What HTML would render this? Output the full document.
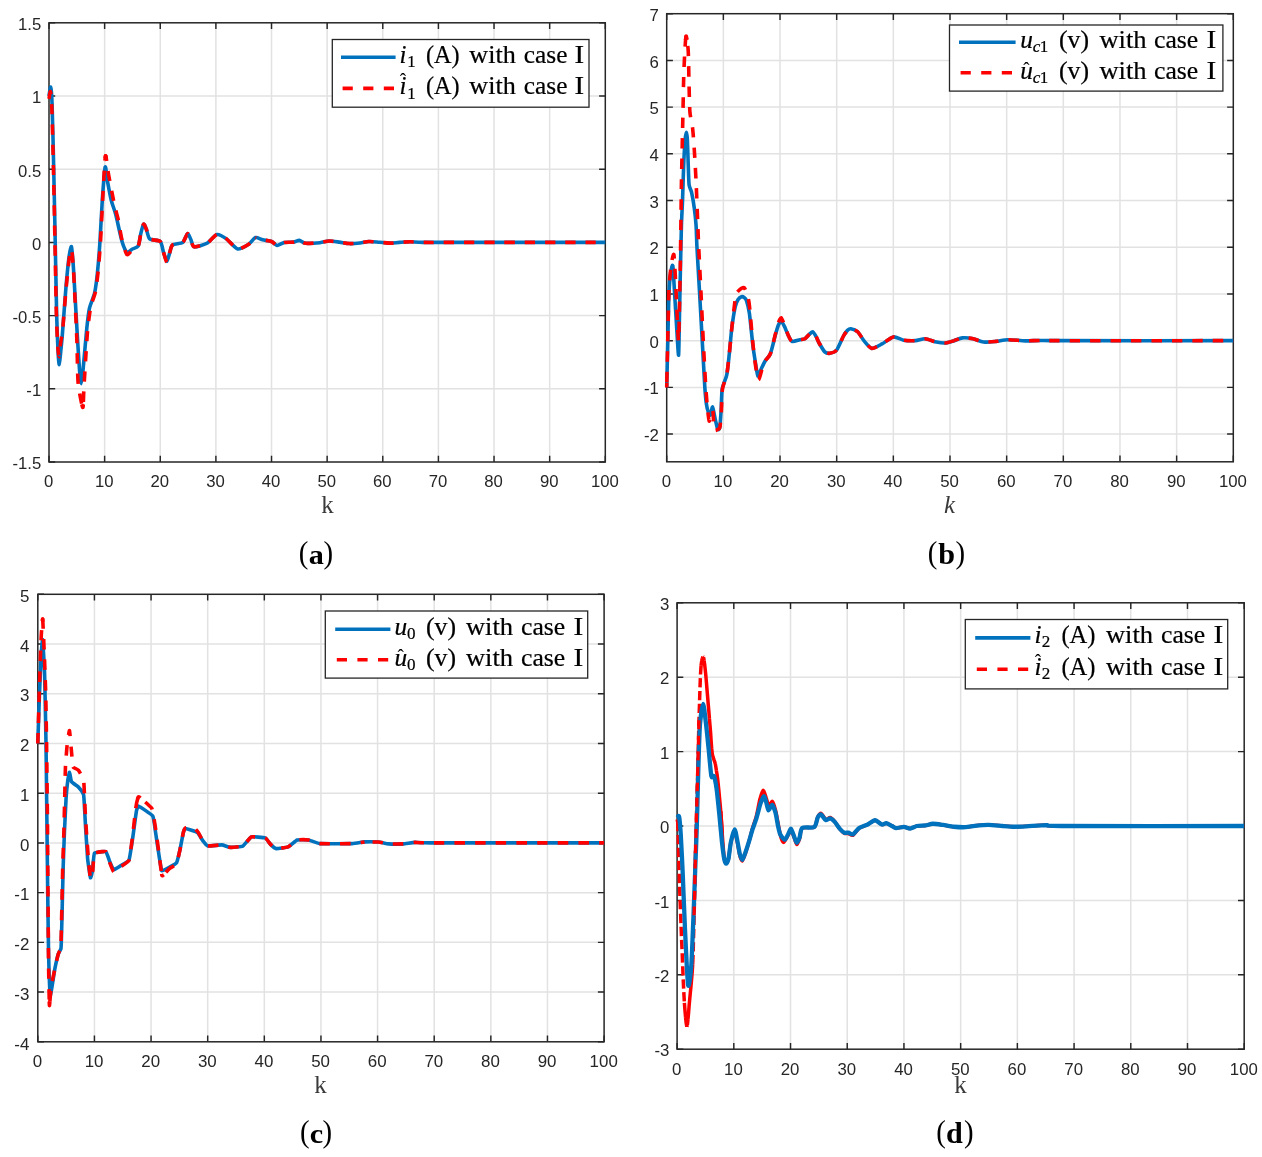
<!DOCTYPE html>
<html lang="en"><head><meta charset="utf-8"><title>Figure</title>
<style>html,body{margin:0;padding:0;background:#fff}svg{display:block}</style></head><body>
<svg width="1262" height="1157" viewBox="0 0 1262 1157">
<rect width="1262" height="1157" fill="#fff"/>
<defs><clipPath id="ca"><rect x="47.00" y="22.80" width="560.30" height="439.20"/></clipPath><clipPath id="cb"><rect x="664.70" y="13.70" width="570.60" height="448.10"/></clipPath><clipPath id="cc"><rect x="35.80" y="594.30" width="570.30" height="447.50"/></clipPath><clipPath id="cd"><rect x="675.10" y="602.80" width="571.10" height="446.40"/></clipPath></defs>
<g id="plotA">
<rect x="49.00" y="22.80" width="556.30" height="439.20" fill="#fff"/>
<path d="M104.63 22.80V462.00M160.26 22.80V462.00M215.89 22.80V462.00M271.52 22.80V462.00M327.15 22.80V462.00M382.78 22.80V462.00M438.41 22.80V462.00M494.04 22.80V462.00M549.67 22.80V462.00M49.00 96.00H605.30M49.00 169.20H605.30M49.00 242.40H605.30M49.00 315.60H605.30M49.00 388.80H605.30" stroke="#e2e2e2" stroke-width="1.5" fill="none"/>
<path d="M49.00 462.00v-6.20M49.00 22.80v6.20M104.63 462.00v-6.20M104.63 22.80v6.20M160.26 462.00v-6.20M160.26 22.80v6.20M215.89 462.00v-6.20M215.89 22.80v6.20M271.52 462.00v-6.20M271.52 22.80v6.20M327.15 462.00v-6.20M327.15 22.80v6.20M382.78 462.00v-6.20M382.78 22.80v6.20M438.41 462.00v-6.20M438.41 22.80v6.20M494.04 462.00v-6.20M494.04 22.80v6.20M549.67 462.00v-6.20M549.67 22.80v6.20M605.30 462.00v-6.20M605.30 22.80v6.20M49.00 22.80h6.20M605.30 22.80h-6.20M49.00 96.00h6.20M605.30 96.00h-6.20M49.00 169.20h6.20M605.30 169.20h-6.20M49.00 242.40h6.20M605.30 242.40h-6.20M49.00 315.60h6.20M605.30 315.60h-6.20M49.00 388.80h6.20M605.30 388.80h-6.20M49.00 462.00h6.20M605.30 462.00h-6.20" stroke="#262626" stroke-width="1.45" fill="none"/>
<rect x="49.00" y="22.80" width="556.30" height="439.20" fill="none" stroke="#262626" stroke-width="1.5"/>
<g clip-path="url(#ca)">
<path d="M49.00 96.00 C49.19 94.98 50.31 86.36 50.67 87.22 C51.03 88.07 51.70 93.76 52.06 103.32 C52.42 112.88 53.36 152.97 53.73 169.20 C54.10 185.43 54.89 225.32 55.23 242.40 C55.57 259.48 56.33 302.62 56.68 315.60 C57.02 328.58 57.87 347.96 58.18 353.66 C58.48 359.37 59.00 364.67 59.29 364.50 C59.58 364.33 60.33 355.68 60.68 352.20 C61.04 348.72 61.74 342.15 62.35 334.63 C62.96 327.12 65.13 296.84 65.91 287.78 C66.69 278.73 68.38 261.84 69.03 257.04 C69.68 252.24 70.99 245.79 71.47 246.65 C71.96 247.50 72.84 259.56 73.20 264.36 C73.56 269.16 74.12 279.59 74.59 287.78 C75.06 295.98 76.68 324.90 77.26 334.63 C77.84 344.37 79.15 365.51 79.60 371.23 C80.04 376.95 80.71 383.68 81.10 383.68 C81.49 383.68 82.27 377.74 82.93 371.23 C83.60 364.72 86.07 335.24 86.83 327.90 C87.59 320.55 88.53 312.36 89.44 308.28 C90.35 304.20 93.69 297.01 94.62 292.91 C95.54 288.81 96.78 279.04 97.40 273.14 C98.01 267.25 99.32 251.11 99.90 242.40 C100.49 233.69 101.79 207.28 102.40 198.48 C103.02 189.68 104.60 169.05 105.19 167.00 C105.77 164.95 106.70 177.00 107.41 180.91 C108.13 184.82 110.33 196.60 111.31 200.53 C112.28 204.46 114.52 209.87 115.76 214.58 C116.99 219.30 120.58 236.56 121.88 240.94 C123.17 245.31 125.65 251.12 126.88 252.06 C128.12 253.00 131.11 249.71 132.44 248.99 C133.78 248.27 137.31 247.71 138.29 245.91 C139.26 244.12 140.17 236.16 140.79 233.62 C141.41 231.07 142.92 224.61 143.57 224.10 C144.22 223.59 145.64 227.50 146.35 229.22 C147.07 230.95 148.07 237.45 149.69 238.89 C151.31 240.32 158.64 239.92 160.26 241.52 C161.88 243.13 162.82 250.33 163.60 252.65 C164.38 254.97 166.22 261.43 166.94 261.43 C167.65 261.43 169.07 254.56 169.72 252.65 C170.37 250.74 170.97 246.23 172.50 245.04 C174.02 243.84 181.04 243.73 182.79 242.40 C184.54 241.07 186.58 233.96 187.52 233.62 C188.46 233.27 190.08 237.93 190.86 239.47 C191.64 241.01 192.31 246.35 194.19 246.79 C196.08 247.24 204.33 244.71 206.99 243.28 C209.65 241.84 214.73 235.01 217.00 234.49 C219.27 233.98 224.06 237.20 226.46 238.89 C228.86 240.58 234.99 248.37 237.59 248.99 C240.18 249.60 246.63 245.49 248.71 244.16 C250.79 242.82 253.76 238.08 255.39 237.57 C257.01 237.06 260.74 239.30 262.62 239.76 C264.50 240.23 269.83 240.86 271.52 241.52 C273.21 242.19 275.59 245.37 277.08 245.47 C278.58 245.58 282.37 242.79 284.31 242.40 C286.26 242.01 292.02 242.35 293.77 242.11 C295.52 241.87 297.97 240.21 299.33 240.35 C300.70 240.49 303.05 243.01 305.45 243.28 C307.86 243.55 317.19 242.96 319.92 242.69 C322.64 242.43 326.55 241.08 328.82 241.01 C331.09 240.94 336.99 241.81 339.39 242.11 C341.79 242.41 347.00 243.47 349.40 243.57 C351.80 243.67 357.70 243.22 359.97 242.99 C362.24 242.75 366.60 241.61 368.87 241.52 C371.14 241.44 376.98 242.07 379.44 242.25 C381.91 242.44 387.68 243.11 390.01 243.13 C392.35 243.15 397.07 242.55 399.47 242.40 C401.87 242.25 407.87 241.81 410.60 241.81 C413.32 241.81 416.34 242.33 422.83 242.40 C429.32 242.47 444.94 242.40 466.23 242.40 C487.51 242.40 589.07 242.40 605.30 242.40" fill="none" stroke="#0072bd" stroke-width="3.60" stroke-linejoin="round"/>
<path d="M49.00 98.93 C49.16 98.07 50.07 90.75 50.39 91.61 C50.72 92.46 51.42 97.20 51.78 106.25 C52.14 115.30 53.08 153.32 53.45 169.20 C53.82 185.08 54.61 225.32 54.95 242.40 C55.30 259.48 56.05 303.30 56.40 315.60 C56.74 327.90 57.56 343.03 57.90 347.81 C58.24 352.59 59.00 356.93 59.29 356.59 C59.58 356.25 60.18 346.93 60.40 344.88 C60.63 342.83 60.98 340.73 61.24 339.02 C61.50 337.32 62.08 335.88 62.63 330.24 C63.17 324.60 65.17 298.91 65.91 290.71 C66.66 282.51 68.38 264.78 69.03 259.97 C69.68 255.15 70.99 248.74 71.47 249.43 C71.96 250.11 72.84 261.01 73.20 265.82 C73.56 270.64 74.17 282.17 74.59 290.71 C75.01 299.25 76.43 328.61 76.81 339.02 C77.20 349.44 77.54 373.35 77.93 380.02 C78.32 386.68 79.57 392.93 80.15 396.12 C80.74 399.31 82.48 408.64 82.93 407.39 C83.39 406.15 83.53 394.09 84.05 385.43 C84.57 376.77 86.61 342.34 87.38 333.17 C88.16 324.00 89.81 311.51 90.72 306.82 C91.63 302.12 94.33 296.84 95.17 292.91 C96.02 288.98 97.34 279.04 97.95 273.14 C98.57 267.25 99.87 251.62 100.46 242.40 C101.04 233.18 102.38 204.17 102.96 194.09 C103.55 184.01 104.82 158.33 105.46 156.02 C106.11 153.72 107.45 168.52 108.52 174.32 C109.59 180.13 113.51 200.51 114.64 205.80 C115.78 211.09 117.42 215.78 118.26 219.71 C119.10 223.64 120.87 235.41 121.88 239.47 C122.88 243.54 125.65 253.36 126.88 254.55 C128.12 255.75 131.11 250.73 132.44 249.72 C133.78 248.71 137.31 247.79 138.29 245.91 C139.26 244.03 140.17 236.16 140.79 233.62 C141.41 231.07 142.92 224.61 143.57 224.10 C144.22 223.59 145.64 227.50 146.35 229.22 C147.07 230.95 148.07 237.45 149.69 238.89 C151.31 240.32 158.64 239.92 160.26 241.52 C161.88 243.13 162.82 250.21 163.60 252.65 C164.38 255.09 166.22 262.46 166.94 262.46 C167.65 262.46 169.07 254.68 169.72 252.65 C170.37 250.62 170.97 246.23 172.50 245.04 C174.02 243.84 181.04 243.73 182.79 242.40 C184.54 241.07 186.58 233.96 187.52 233.62 C188.46 233.27 190.08 237.93 190.86 239.47 C191.64 241.01 192.31 246.35 194.19 246.79 C196.08 247.24 204.33 244.71 206.99 243.28 C209.65 241.84 214.73 235.01 217.00 234.49 C219.27 233.98 224.06 237.20 226.46 238.89 C228.86 240.58 234.99 248.37 237.59 248.99 C240.18 249.60 246.63 245.49 248.71 244.16 C250.79 242.82 254.61 238.34 255.39 237.57" fill="none" stroke="#ff0000" stroke-width="3.60" stroke-linejoin="round" stroke-dasharray="10.3 9.9"/>
<path d="M255.39 237.57 C256.23 237.83 260.74 239.30 262.62 239.76 C264.50 240.23 269.83 240.86 271.52 241.52 C273.21 242.19 275.59 245.37 277.08 245.47 C278.58 245.58 282.37 242.79 284.31 242.40 C286.26 242.01 292.02 242.35 293.77 242.11 C295.52 241.87 297.97 240.21 299.33 240.35 C300.70 240.49 303.05 243.01 305.45 243.28 C307.86 243.55 317.19 242.96 319.92 242.69 C322.64 242.43 326.55 241.08 328.82 241.01 C331.09 240.94 336.99 241.81 339.39 242.11 C341.79 242.41 347.00 243.47 349.40 243.57 C351.80 243.67 357.70 243.22 359.97 242.99 C362.24 242.75 366.60 241.61 368.87 241.52 C371.14 241.44 376.98 242.07 379.44 242.25 C381.91 242.44 387.68 243.11 390.01 243.13 C392.35 243.15 397.07 242.55 399.47 242.40 C401.87 242.25 407.87 241.81 410.60 241.81 C413.32 241.81 416.34 242.33 422.83 242.40 C429.32 242.47 444.94 242.40 466.23 242.40 C487.51 242.40 589.07 242.40 605.30 242.40" fill="none" stroke="#ff0000" stroke-width="3.60" stroke-dasharray="10.3 9.9" stroke-dashoffset="9.39"/>
<path d="M81.8 404.4L81.9 404.7L81.9 404.9L82.0 405.1L82.0 405.3L82.1 405.5L82.1 405.7L82.2 405.9L82.2 406.1L82.3 406.3L82.3 406.5L82.4 406.6L82.4 406.8L82.5 406.9L82.5 407.0L82.6 407.1L82.6 407.2L82.7 407.3L82.7 407.4L82.7 407.4L82.8 407.5L82.8 407.5L82.8 407.5L82.9 407.5L82.9 407.5L82.9 407.4L82.9 407.4L83.0 407.3L83.0 407.2L83.0 407.1L83.0 407.0L83.0 406.9L83.1 406.7L83.1 406.5L83.1 406.4L83.1 406.2L83.1 405.9L83.2 405.7L83.2 405.5L83.2 405.2L83.2 404.9L83.2 404.7L83.2 404.4L83.3 404.1M105.2 158.1L105.2 157.7L105.3 157.4L105.3 157.1L105.3 156.8L105.4 156.5L105.4 156.3L105.4 156.2L105.5 156.0L105.5 155.9L105.5 155.8L105.6 155.8L105.6 155.8L105.6 155.8L105.7 155.8L105.7 155.9L105.8 156.0L105.8 156.1L105.8 156.2L105.9 156.3L105.9 156.5L106.0 156.7L106.0 156.9L106.1 157.1L106.1 157.3L106.2 157.6L106.2 157.9" fill="none" stroke="#ff0000" stroke-width="3.60" stroke-linejoin="round"/>
</g>
<g font-family="'Liberation Sans', Arial, sans-serif" font-size="16.70" fill="#262626">
<text x="48.60" y="487.10" text-anchor="middle">0</text>
<text x="104.23" y="487.10" text-anchor="middle">10</text>
<text x="159.86" y="487.10" text-anchor="middle">20</text>
<text x="215.49" y="487.10" text-anchor="middle">30</text>
<text x="271.12" y="487.10" text-anchor="middle">40</text>
<text x="326.75" y="487.10" text-anchor="middle">50</text>
<text x="382.38" y="487.10" text-anchor="middle">60</text>
<text x="438.01" y="487.10" text-anchor="middle">70</text>
<text x="493.64" y="487.10" text-anchor="middle">80</text>
<text x="549.27" y="487.10" text-anchor="middle">90</text>
<text x="604.90" y="487.10" text-anchor="middle">100</text>
<text x="41.20" y="30.10" text-anchor="end">1.5</text>
<text x="41.20" y="103.30" text-anchor="end">1</text>
<text x="41.20" y="176.50" text-anchor="end">0.5</text>
<text x="41.20" y="249.70" text-anchor="end">0</text>
<text x="41.20" y="322.90" text-anchor="end">-0.5</text>
<text x="41.20" y="396.10" text-anchor="end">-1</text>
<text x="41.20" y="469.30" text-anchor="end">-1.5</text>
</g>
<rect x="332.30" y="39.50" width="256.70" height="67.70" fill="#fff" stroke="#262626" stroke-width="1.3"/>
<path d="M341.00 57.30H395.60" stroke="#0072bd" stroke-width="3.6"/>
<path d="M342.60 88.40H395.60" stroke="#ff0000" stroke-width="3.6" stroke-dasharray="10.2 10.4"/>
<g font-family="'Liberation Serif', 'Times New Roman', serif" font-size="25.00" fill="#000" stroke="#000" stroke-width="0.22">
<text x="399.40" y="62.70" font-style="italic">i</text>
<text x="407.30" y="67.00" font-size="16.80">1</text>
<text x="426.00" y="62.70" textLength="33.60" lengthAdjust="spacingAndGlyphs">(A)</text>
<text x="469.30" y="62.70" textLength="46.45" lengthAdjust="spacingAndGlyphs">with</text>
<text x="523.80" y="62.70" textLength="43.60" lengthAdjust="spacingAndGlyphs">case</text>
<text x="574.40" y="62.70" textLength="9.60" lengthAdjust="spacingAndGlyphs">I</text>
<text x="399.40" y="94.20" font-style="italic">i</text>
<text x="407.30" y="98.50" font-size="16.80">1</text>
<text x="426.00" y="94.20" textLength="33.60" lengthAdjust="spacingAndGlyphs">(A)</text>
<text x="469.30" y="94.20" textLength="46.45" lengthAdjust="spacingAndGlyphs">with</text>
<text x="523.80" y="94.20" textLength="43.60" lengthAdjust="spacingAndGlyphs">case</text>
<text x="574.40" y="94.20" textLength="9.60" lengthAdjust="spacingAndGlyphs">I</text>
<text x="402.90" y="86.20" text-anchor="middle" font-size="19" stroke="none">ˆ</text>
</g>
<text x="327.40" y="513.30" text-anchor="middle" font-family="'Liberation Serif', 'Times New Roman', serif" font-size="25" fill="#3a3a3a">k</text>
<g font-family="'Liberation Serif', 'Times New Roman', serif" fill="#000"><text transform="translate(298.70 563.00) scale(0.9 1)" font-size="32">(</text><text transform="translate(308.80 563.60) scale(1.140 1)" font-size="26.5" font-weight="bold">a</text><text transform="translate(323.60 563.00) scale(0.9 1)" font-size="32">)</text></g>
</g>
<g id="plotB">
<rect x="666.70" y="13.70" width="566.60" height="448.10" fill="#fff"/>
<path d="M723.36 13.70V461.80M780.02 13.70V461.80M836.68 13.70V461.80M893.34 13.70V461.80M950.00 13.70V461.80M1006.66 13.70V461.80M1063.32 13.70V461.80M1119.98 13.70V461.80M1176.64 13.70V461.80M666.70 60.41H1233.30M666.70 107.12H1233.30M666.70 153.83H1233.30M666.70 200.54H1233.30M666.70 247.25H1233.30M666.70 293.96H1233.30M666.70 340.67H1233.30M666.70 387.38H1233.30M666.70 434.09H1233.30" stroke="#e2e2e2" stroke-width="1.5" fill="none"/>
<path d="M666.70 461.80v-6.20M666.70 13.70v6.20M723.36 461.80v-6.20M723.36 13.70v6.20M780.02 461.80v-6.20M780.02 13.70v6.20M836.68 461.80v-6.20M836.68 13.70v6.20M893.34 461.80v-6.20M893.34 13.70v6.20M950.00 461.80v-6.20M950.00 13.70v6.20M1006.66 461.80v-6.20M1006.66 13.70v6.20M1063.32 461.80v-6.20M1063.32 13.70v6.20M1119.98 461.80v-6.20M1119.98 13.70v6.20M1176.64 461.80v-6.20M1176.64 13.70v6.20M1233.30 461.80v-6.20M1233.30 13.70v6.20M666.70 13.70h6.20M1233.30 13.70h-6.20M666.70 60.41h6.20M1233.30 60.41h-6.20M666.70 107.12h6.20M1233.30 107.12h-6.20M666.70 153.83h6.20M1233.30 153.83h-6.20M666.70 200.54h6.20M1233.30 200.54h-6.20M666.70 247.25h6.20M1233.30 247.25h-6.20M666.70 293.96h6.20M1233.30 293.96h-6.20M666.70 340.67h6.20M1233.30 340.67h-6.20M666.70 387.38h6.20M1233.30 387.38h-6.20M666.70 434.09h6.20M1233.30 434.09h-6.20" stroke="#262626" stroke-width="1.45" fill="none"/>
<rect x="666.70" y="13.70" width="566.60" height="448.10" fill="none" stroke="#262626" stroke-width="1.5"/>
<g clip-path="url(#cb)">
<path d="M666.70 387.38 C666.83 381.93 667.57 351.73 667.83 340.67 C668.10 329.61 668.64 300.46 668.97 292.56 C669.30 284.66 670.22 276.05 670.67 272.94 C671.12 269.83 672.36 263.48 672.82 265.93 C673.28 268.39 674.16 286.33 674.63 293.96 C675.11 301.59 676.44 324.19 676.90 331.33 C677.36 338.47 678.30 356.78 678.60 355.15 C678.90 353.52 679.25 326.63 679.45 317.31 C679.65 308.00 680.07 285.96 680.30 275.28 C680.53 264.59 681.17 234.59 681.43 225.76 C681.70 216.94 682.30 206.74 682.56 199.61 C682.83 192.47 683.40 171.55 683.70 164.57 C684.00 157.60 684.79 143.58 685.11 139.82 C685.44 136.06 686.21 132.34 686.47 132.34 C686.74 132.34 687.18 136.06 687.38 139.82 C687.59 143.58 688.03 159.34 688.23 164.57 C688.43 169.80 688.68 181.39 689.08 184.66 C689.48 187.93 691.02 189.82 691.63 192.60 C692.25 195.38 693.83 204.61 694.35 208.48 C694.87 212.35 695.80 221.24 696.11 225.76 C696.41 230.29 696.55 239.46 696.96 247.25 C697.36 255.04 698.95 281.66 699.56 292.56 C700.18 303.46 701.61 329.61 702.23 340.67 C702.84 351.73 704.35 380.02 704.83 387.38 C705.31 394.74 705.95 400.84 706.36 403.73 C706.77 406.62 707.85 410.83 708.35 412.14 C708.84 413.44 710.12 415.54 710.61 414.94 C711.11 414.34 712.03 406.40 712.59 407.00 C713.16 407.60 714.83 417.52 715.43 420.08 C716.02 422.64 717.20 428.03 717.69 428.95 C718.19 429.88 719.28 430.14 719.68 428.02 C720.07 425.89 720.80 415.31 721.09 410.74 C721.39 406.16 721.57 392.98 722.23 388.78 C722.89 384.59 725.93 378.86 726.76 374.77 C727.59 370.68 728.71 359.25 729.31 353.75 C729.90 348.24 731.16 333.10 731.86 327.59 C732.55 322.09 734.53 309.84 735.26 306.57 C735.99 303.30 737.36 300.71 738.09 299.57 C738.82 298.42 740.76 296.98 741.49 296.76 C742.22 296.54 743.73 297.21 744.32 297.70 C744.92 298.19 746.00 299.11 746.59 300.97 C747.19 302.82 748.70 308.46 749.42 313.58 C750.15 318.70 752.10 338.99 752.82 344.87 C753.55 350.76 755.06 360.37 755.66 364.02 C756.25 367.68 757.26 375.62 757.92 376.17 C758.58 376.71 760.46 370.49 761.32 368.70 C762.18 366.90 764.23 362.50 765.29 360.76 C766.35 359.01 769.20 356.80 770.39 353.75 C771.58 350.70 774.56 337.92 775.49 334.60 C776.41 331.27 777.66 326.84 778.32 325.26 C778.98 323.68 780.43 320.89 781.15 321.05 C781.88 321.22 783.76 325.08 784.55 326.66 C785.35 328.24 787.09 332.88 787.95 334.60 C788.81 336.31 790.53 340.77 791.92 341.37 C793.31 341.97 798.33 340.04 799.85 339.74 C801.37 339.44 803.83 339.46 804.95 338.80 C806.07 338.15 808.56 334.95 809.48 334.13 C810.41 333.31 812.09 331.47 812.88 331.80 C813.68 332.12 815.56 335.63 816.28 336.93 C817.01 338.24 818.12 341.26 819.12 343.01 C820.11 344.75 823.53 350.68 824.78 351.88 C826.04 353.08 828.49 353.50 829.88 353.28 C831.27 353.06 835.09 352.03 836.68 350.01 C838.27 348.00 842.22 338.29 843.48 336.00 C844.74 333.71 846.59 331.24 847.45 330.39 C848.30 329.55 849.66 328.60 850.85 328.76 C852.03 328.92 856.06 330.32 857.64 331.80 C859.23 333.27 862.79 339.44 864.44 341.37 C866.10 343.31 869.76 348.08 871.81 348.38 C873.86 348.68 879.50 345.27 882.01 343.94 C884.52 342.60 890.83 337.37 893.34 336.93 C895.85 336.50 900.96 339.77 903.54 340.20 C906.12 340.64 912.93 340.83 915.44 340.67 C917.95 340.51 922.62 338.64 925.07 338.80 C927.52 338.97 934.02 341.58 936.40 342.07 C938.78 342.56 943.42 343.17 945.47 343.01 C947.52 342.84 951.98 341.27 953.97 340.67 C955.95 340.07 960.22 338.09 962.47 337.87 C964.71 337.65 970.78 338.31 973.23 338.80 C975.68 339.29 980.79 341.77 983.43 342.07 C986.07 342.37 993.05 341.64 995.89 341.37 C998.74 341.10 1004.36 339.80 1007.79 339.74 C1011.23 339.68 1021.52 340.78 1025.36 340.86 C1029.19 340.94 1036.23 340.46 1040.66 340.44 C1045.08 340.41 1040.84 340.64 1063.32 340.67 C1085.80 340.70 1213.47 340.67 1233.30 340.67" fill="none" stroke="#0072bd" stroke-width="3.60" stroke-linejoin="round"/>
<path d="M666.70 387.38 C666.83 381.39 667.57 347.44 667.83 336.00 C668.10 324.56 668.57 297.57 668.97 289.29 C669.36 281.01 670.66 269.03 671.23 265.00 C671.81 260.97 673.37 252.43 673.90 254.72 C674.42 257.01 675.35 276.77 675.77 284.62 C676.18 292.47 677.13 315.39 677.47 321.99 C677.80 328.58 678.37 342.77 678.60 341.14 C678.83 339.50 679.25 316.75 679.45 307.97 C679.65 299.20 680.13 275.53 680.30 265.93 C680.46 256.34 680.73 235.52 680.87 225.76 C681.00 216.01 681.19 195.57 681.43 182.32 C681.68 169.08 682.70 124.52 682.96 112.26 C683.23 100.00 683.48 84.36 683.70 77.23 C683.92 70.09 684.55 55.86 684.83 51.07 C685.12 46.27 685.74 36.12 686.13 36.12 C686.53 36.12 687.89 45.24 688.23 51.07 C688.57 56.90 688.88 78.96 689.08 86.10 C689.28 93.24 689.52 107.35 689.93 112.26 C690.34 117.16 692.08 123.67 692.59 128.14 C693.11 132.61 693.94 144.24 694.35 150.56 C694.76 156.88 695.70 173.55 696.11 182.32 C696.52 191.10 697.56 218.19 697.86 225.76 C698.17 233.34 698.35 239.46 698.71 247.25 C699.08 255.04 700.45 281.66 700.98 292.56 C701.51 303.46 702.68 329.61 703.25 340.67 C703.81 351.73 705.30 379.48 705.80 387.38 C706.29 395.28 707.10 404.48 707.50 408.40 C707.89 412.32 708.73 420.19 709.20 421.01 C709.66 421.83 711.03 416.60 711.46 415.41 C711.89 414.21 712.55 409.10 712.88 410.74 C713.21 412.37 713.73 427.24 714.29 429.42 C714.86 431.60 717.03 429.69 717.69 429.42 C718.36 429.15 719.53 429.26 719.96 427.08 C720.39 424.90 721.08 415.20 721.38 410.74 C721.67 406.27 721.88 392.98 722.51 388.78 C723.14 384.59 725.97 378.86 726.76 374.77 C727.55 370.68 728.71 359.25 729.31 353.75 C729.90 348.24 731.16 334.02 731.86 327.59 C732.55 321.16 734.66 302.72 735.26 298.63 C735.85 294.54 736.23 293.76 736.96 292.56 C737.69 291.36 740.63 288.90 741.49 288.35 C742.35 287.81 743.66 287.23 744.32 287.89 C744.99 288.54 746.56 291.89 747.16 293.96 C747.75 296.03 748.76 299.92 749.42 305.64 C750.08 311.36 752.10 335.92 752.82 343.01 C753.55 350.09 755.00 362.06 755.66 366.36 C756.32 370.67 757.76 379.52 758.49 379.91 C759.22 380.29 761.10 371.86 761.89 369.63 C762.68 367.40 764.30 362.61 765.29 360.76 C766.28 358.90 769.20 356.91 770.39 353.75 C771.58 350.59 774.56 337.26 775.49 333.66 C776.41 330.07 777.66 324.77 778.32 322.92 C778.98 321.07 780.43 317.51 781.15 317.78 C781.88 318.05 783.76 323.29 784.55 325.26 C785.35 327.22 787.09 332.72 787.95 334.60 C788.81 336.48 790.53 340.77 791.92 341.37 C793.31 341.97 798.33 340.04 799.85 339.74 C801.37 339.44 803.83 339.46 804.95 338.80 C806.07 338.15 808.56 334.95 809.48 334.13 C810.41 333.31 812.09 331.47 812.88 331.80 C813.68 332.12 815.56 335.63 816.28 336.93 C817.01 338.24 818.12 341.26 819.12 343.01 C820.11 344.75 823.53 350.68 824.78 351.88 C826.04 353.08 828.49 353.50 829.88 353.28 C831.27 353.06 835.09 352.03 836.68 350.01 C838.27 348.00 842.22 338.29 843.48 336.00 C844.74 333.71 846.59 331.24 847.45 330.39 C848.30 329.55 849.66 328.60 850.85 328.76 C852.03 328.92 856.06 330.32 857.64 331.80 C859.23 333.27 862.79 339.44 864.44 341.37 C866.10 343.31 869.76 348.08 871.81 348.38 C873.86 348.68 879.50 345.27 882.01 343.94 C884.52 342.60 890.83 337.37 893.34 336.93 C895.85 336.50 900.96 339.77 903.54 340.20 C906.12 340.64 912.93 340.83 915.44 340.67 C917.95 340.51 922.62 338.64 925.07 338.80 C927.52 338.97 934.02 341.58 936.40 342.07 C938.78 342.56 943.42 343.17 945.47 343.01 C947.52 342.84 952.97 340.94 953.97 340.67" fill="none" stroke="#ff0000" stroke-width="3.60" stroke-linejoin="round" stroke-dasharray="10.4 10.0" stroke-dashoffset="15.20"/>
<path d="M953.97 340.67 C954.96 340.34 960.22 338.09 962.47 337.87 C964.71 337.65 970.78 338.31 973.23 338.80 C975.68 339.29 980.79 341.77 983.43 342.07 C986.07 342.37 993.05 341.64 995.89 341.37 C998.74 341.10 1004.36 339.80 1007.79 339.74 C1011.23 339.68 1021.52 340.78 1025.36 340.86 C1029.19 340.94 1036.23 340.46 1040.66 340.44 C1045.08 340.41 1040.84 340.64 1063.32 340.67 C1085.80 340.70 1213.47 340.67 1233.30 340.67" fill="none" stroke="#ff0000" stroke-width="3.60" stroke-dasharray="10.4 10.0" stroke-dashoffset="5.31"/>
<path d="M666.7 387.4L666.7 387.1L666.7 386.7L666.7 386.3L666.7 385.8L666.7 385.3L666.8 384.8L666.8 384.2L666.8 383.6L666.8 383.0M685.6 40.0L685.6 39.7L685.6 39.5L685.7 39.2L685.7 38.9L685.7 38.7L685.7 38.4L685.8 38.2L685.8 38.0L685.8 37.8L685.8 37.6L685.9 37.4L685.9 37.2L685.9 37.0L685.9 36.9L685.9 36.8L686.0 36.6L686.0 36.5L686.0 36.4L686.0 36.3L686.1 36.3L686.1 36.2L686.1 36.2L686.1 36.1L686.1 36.1L686.2 36.1L686.2 36.2L686.2 36.2L686.2 36.2L686.3 36.3L686.3 36.4L686.3 36.5L686.3 36.6L686.4 36.7L686.4 36.8L686.4 37.0L686.5 37.1L686.5 37.3L686.5 37.5L686.6 37.6L686.6 37.8L686.7 38.0L686.7 38.2L686.7 38.5L686.8 38.7L686.8 38.9L686.9 39.2L686.9 39.4L686.9 39.7L687.0 40.0" fill="none" stroke="#ff0000" stroke-width="3.60" stroke-linejoin="round"/>
</g>
<g font-family="'Liberation Sans', Arial, sans-serif" font-size="16.80" fill="#262626">
<text x="666.30" y="487.10" text-anchor="middle">0</text>
<text x="722.96" y="487.10" text-anchor="middle">10</text>
<text x="779.62" y="487.10" text-anchor="middle">20</text>
<text x="836.28" y="487.10" text-anchor="middle">30</text>
<text x="892.94" y="487.10" text-anchor="middle">40</text>
<text x="949.60" y="487.10" text-anchor="middle">50</text>
<text x="1006.26" y="487.10" text-anchor="middle">60</text>
<text x="1062.92" y="487.10" text-anchor="middle">70</text>
<text x="1119.58" y="487.10" text-anchor="middle">80</text>
<text x="1176.24" y="487.10" text-anchor="middle">90</text>
<text x="1232.90" y="487.10" text-anchor="middle">100</text>
<text x="658.90" y="20.80" text-anchor="end">7</text>
<text x="658.90" y="67.51" text-anchor="end">6</text>
<text x="658.90" y="114.22" text-anchor="end">5</text>
<text x="658.90" y="160.93" text-anchor="end">4</text>
<text x="658.90" y="207.64" text-anchor="end">3</text>
<text x="658.90" y="254.35" text-anchor="end">2</text>
<text x="658.90" y="301.06" text-anchor="end">1</text>
<text x="658.90" y="347.77" text-anchor="end">0</text>
<text x="658.90" y="394.48" text-anchor="end">-1</text>
<text x="658.90" y="441.19" text-anchor="end">-2</text>
</g>
<rect x="949.50" y="25.00" width="273.40" height="66.10" fill="#fff" stroke="#262626" stroke-width="1.3"/>
<path d="M959.00 42.30H1015.60" stroke="#0072bd" stroke-width="3.6"/>
<path d="M960.60 72.80H1015.60" stroke="#ff0000" stroke-width="3.6" stroke-dasharray="10.2 10.4"/>
<g font-family="'Liberation Serif', 'Times New Roman', serif" font-size="25.37" fill="#000" stroke="#000" stroke-width="0.22">
<text x="1020.30" y="47.60" font-style="italic">u</text>
<text x="1032.80" y="51.90" font-size="17.05" font-style="italic">c</text>
<text x="1039.80" y="51.90" font-size="17.05">1</text>
<text x="1059.00" y="47.60" textLength="30.04" lengthAdjust="spacingAndGlyphs">(v)</text>
<text x="1099.40" y="47.60" textLength="47.15" lengthAdjust="spacingAndGlyphs">with</text>
<text x="1154.00" y="47.60" textLength="44.25" lengthAdjust="spacingAndGlyphs">case</text>
<text x="1206.60" y="47.60" textLength="9.74" lengthAdjust="spacingAndGlyphs">I</text>
<text x="1020.30" y="79.00" font-style="italic">u</text>
<text x="1032.80" y="83.30" font-size="17.05" font-style="italic">c</text>
<text x="1039.80" y="83.30" font-size="17.05">1</text>
<text x="1059.00" y="79.00" textLength="30.04" lengthAdjust="spacingAndGlyphs">(v)</text>
<text x="1099.40" y="79.00" textLength="47.15" lengthAdjust="spacingAndGlyphs">with</text>
<text x="1154.00" y="79.00" textLength="44.25" lengthAdjust="spacingAndGlyphs">case</text>
<text x="1206.60" y="79.00" textLength="9.74" lengthAdjust="spacingAndGlyphs">I</text>
<text x="1026.30" y="75.40" text-anchor="middle" font-size="19" stroke="none">ˆ</text>
</g>
<text x="949.60" y="513.30" text-anchor="middle" font-family="'Liberation Serif', 'Times New Roman', serif" font-size="25" fill="#3a3a3a" font-style="italic">k</text>
<g font-family="'Liberation Serif', 'Times New Roman', serif" fill="#000"><text transform="translate(927.70 563.00) scale(0.9 1)" font-size="32">(</text><text transform="translate(938.30 563.60) scale(1.040 1)" font-size="29.0" font-weight="bold">b</text><text transform="translate(955.50 563.00) scale(0.9 1)" font-size="32">)</text></g>
</g>
<g id="plotC">
<rect x="37.80" y="594.30" width="566.30" height="447.50" fill="#fff"/>
<path d="M94.43 594.30V1041.80M151.06 594.30V1041.80M207.69 594.30V1041.80M264.32 594.30V1041.80M320.95 594.30V1041.80M377.58 594.30V1041.80M434.21 594.30V1041.80M490.84 594.30V1041.80M547.47 594.30V1041.80M37.80 644.02H604.10M37.80 693.74H604.10M37.80 743.47H604.10M37.80 793.19H604.10M37.80 842.91H604.10M37.80 892.63H604.10M37.80 942.36H604.10M37.80 992.08H604.10" stroke="#e2e2e2" stroke-width="1.5" fill="none"/>
<path d="M37.80 1041.80v-6.20M37.80 594.30v6.20M94.43 1041.80v-6.20M94.43 594.30v6.20M151.06 1041.80v-6.20M151.06 594.30v6.20M207.69 1041.80v-6.20M207.69 594.30v6.20M264.32 1041.80v-6.20M264.32 594.30v6.20M320.95 1041.80v-6.20M320.95 594.30v6.20M377.58 1041.80v-6.20M377.58 594.30v6.20M434.21 1041.80v-6.20M434.21 594.30v6.20M490.84 1041.80v-6.20M490.84 594.30v6.20M547.47 1041.80v-6.20M547.47 594.30v6.20M604.10 1041.80v-6.20M604.10 594.30v6.20M37.80 594.30h6.20M604.10 594.30h-6.20M37.80 644.02h6.20M604.10 644.02h-6.20M37.80 693.74h6.20M604.10 693.74h-6.20M37.80 743.47h6.20M604.10 743.47h-6.20M37.80 793.19h6.20M604.10 793.19h-6.20M37.80 842.91h6.20M604.10 842.91h-6.20M37.80 892.63h6.20M604.10 892.63h-6.20M37.80 942.36h6.20M604.10 942.36h-6.20M37.80 992.08h6.20M604.10 992.08h-6.20M37.80 1041.80h6.20M604.10 1041.80h-6.20" stroke="#262626" stroke-width="1.45" fill="none"/>
<rect x="37.80" y="594.30" width="566.30" height="447.50" fill="none" stroke="#262626" stroke-width="1.5"/>
<g clip-path="url(#cc)">
<path d="M37.80 743.47 C37.90 740.57 39.30 698.97 39.50 693.74 C39.70 688.52 41.01 657.13 41.20 653.97 C41.38 650.81 42.47 638.39 42.67 639.55 C42.87 640.71 44.40 667.79 44.60 673.86 C44.79 679.92 45.88 735.06 46.01 743.47 C46.14 751.88 46.76 809.35 46.86 818.05 C46.96 826.75 47.61 884.80 47.71 892.63 C47.81 900.46 48.41 946.30 48.56 952.30 C48.71 958.30 49.90 994.57 50.26 995.56 C50.62 996.54 54.33 971.61 54.79 969.21 C55.25 966.80 57.83 955.48 58.19 954.29 C58.54 953.10 60.72 949.52 60.91 948.82 C61.09 948.12 61.24 944.07 61.30 942.36 C61.36 940.64 61.82 923.86 61.92 919.48 C62.03 915.10 63.02 872.35 63.17 867.27 C63.32 862.20 64.24 836.53 64.42 832.47 C64.59 828.41 65.92 800.71 66.12 797.66 C66.31 794.62 67.62 781.74 67.81 780.26 C68.01 778.78 69.29 772.22 69.51 772.31 C69.73 772.39 71.02 780.88 71.55 781.75 C72.08 782.62 77.87 786.44 78.57 787.22 C79.28 788.01 83.27 793.06 83.67 795.18 C84.07 797.30 85.14 819.81 85.37 823.52 C85.60 827.23 87.34 855.66 87.63 858.82 C87.93 861.98 90.18 877.02 90.47 877.72 C90.75 878.41 92.27 872.18 92.50 870.76 C92.74 869.33 93.66 854.47 94.43 853.35 C95.20 852.24 104.85 851.09 105.76 851.61 C106.66 852.13 109.54 861.24 110.00 862.30 C110.47 863.36 113.07 869.56 113.68 869.76 C114.30 869.96 119.59 866.33 120.48 865.78 C121.37 865.23 128.26 861.94 128.97 860.31 C129.69 858.69 132.28 840.78 132.71 837.94 C133.14 835.10 135.99 813.44 136.34 811.59 C136.68 809.73 137.64 805.86 138.60 806.12 C139.56 806.38 151.77 814.52 152.76 816.06 C153.75 817.60 155.23 830.18 155.59 832.47 C155.95 834.76 158.62 853.11 158.99 855.34 C159.35 857.58 161.23 870.06 161.82 870.76 C162.41 871.45 168.32 867.74 169.18 867.27 C170.04 866.81 175.92 863.82 176.54 862.80 C177.17 861.78 179.54 851.64 179.94 849.87 C180.34 848.10 183.01 833.72 183.34 832.47 C183.67 831.22 184.78 828.49 185.60 828.49 C186.43 828.49 196.51 831.77 197.50 832.47 C198.49 833.17 202.00 839.64 202.59 840.42 C203.19 841.21 206.57 845.63 207.69 845.89 C208.81 846.16 220.53 844.81 221.85 844.90 C223.17 844.99 229.12 847.32 230.34 847.39 C231.56 847.45 241.58 846.65 242.80 846.04 C244.02 845.43 249.99 837.42 251.30 836.94 C252.60 836.47 264.05 837.50 265.17 837.94 C266.29 838.37 269.91 843.78 270.55 844.40 C271.19 845.03 275.19 848.48 276.21 848.63 C277.24 848.77 286.88 847.40 288.10 846.89 C289.33 846.38 295.98 840.33 297.17 839.93 C298.35 839.52 307.17 839.71 308.49 839.93 C309.81 840.14 317.27 843.39 319.82 843.61 C322.36 843.82 349.49 843.71 352.10 843.61 C354.71 843.51 363.02 842.01 364.56 841.92 C366.09 841.82 377.01 841.90 378.43 842.02 C379.85 842.13 387.47 843.80 388.91 843.91 C390.34 844.02 401.54 843.99 403.06 843.91 C404.58 843.82 413.34 842.47 414.96 842.41 C416.57 842.36 419.78 842.88 430.81 842.91 C441.85 842.94 593.99 842.91 604.10 842.91" fill="none" stroke="#0072bd" stroke-width="3.60" stroke-linejoin="round"/>
<path d="M37.80 743.47 C37.90 739.99 39.30 690.04 39.50 683.80 C39.70 677.56 41.01 640.33 41.20 636.56 C41.38 632.79 42.49 618.15 42.67 619.16 C42.85 620.18 44.13 649.62 44.31 653.97 C44.49 658.32 45.60 688.52 45.73 693.74 C45.86 698.97 46.48 736.22 46.58 743.47 C46.68 750.72 47.34 809.35 47.43 818.05 C47.51 826.75 47.93 884.08 47.99 892.63 C48.06 901.19 48.48 958.15 48.56 964.73 C48.64 971.31 49.26 1004.20 49.41 1005.50 C49.56 1006.81 50.79 989.22 51.11 987.11 C51.42 984.99 54.38 971.12 54.79 969.21 C55.20 967.29 57.86 955.48 58.19 954.29 C58.52 953.10 60.29 949.52 60.45 948.82 C60.62 948.12 60.95 944.07 61.02 942.36 C61.08 940.64 61.49 923.86 61.58 919.48 C61.68 915.10 62.59 872.35 62.72 867.27 C62.85 862.20 63.73 836.53 63.85 832.47 C63.97 828.41 64.61 801.49 64.70 797.66 C64.79 793.84 65.29 770.00 65.44 766.84 C65.58 763.67 67.01 745.58 67.25 743.47 C67.49 741.35 69.25 729.87 69.51 730.54 C69.78 731.21 71.58 752.79 71.78 754.90 C71.98 757.02 72.51 765.94 72.91 766.84 C73.31 767.74 77.95 769.50 78.57 770.32 C79.20 771.13 83.29 778.41 83.67 780.76 C84.05 783.11 84.98 807.55 85.14 810.59 C85.31 813.64 86.31 830.07 86.50 832.97 C86.70 835.87 88.25 857.65 88.48 860.31 C88.72 862.98 90.22 878.10 90.47 878.71 C90.71 879.32 92.50 872.23 92.73 870.76 C92.96 869.28 93.67 854.47 94.43 853.35 C95.19 852.24 104.85 851.03 105.76 851.61 C106.66 852.19 109.54 862.12 110.00 863.30 C110.47 864.47 113.07 871.55 113.68 871.75 C114.30 871.95 119.59 867.44 120.48 866.78 C121.37 866.11 128.28 862.00 128.97 860.31 C129.67 858.63 131.98 840.98 132.37 837.94 C132.77 834.89 135.41 810.51 135.77 808.11 C136.13 805.70 137.68 796.67 138.60 796.67 C139.53 796.67 150.73 806.86 151.63 808.11 C152.52 809.35 153.63 816.63 153.89 818.05 C154.16 819.47 155.83 830.15 156.16 832.47 C156.49 834.79 159.21 855.30 159.55 857.83 C159.90 860.35 161.54 875.09 162.10 875.73 C162.66 876.37 168.34 869.46 169.18 868.77 C170.02 868.07 175.92 864.90 176.54 863.79 C177.17 862.69 179.54 851.70 179.94 849.87 C180.34 848.04 183.01 833.75 183.34 832.47 C183.67 831.19 184.98 828.26 185.60 827.99 C186.23 827.73 193.34 827.70 194.10 827.99 C194.86 828.28 198.13 832.24 198.63 832.97 C199.12 833.69 202.06 839.67 202.59 840.42 C203.12 841.18 206.57 845.63 207.69 845.89 C208.81 846.16 220.53 844.81 221.85 844.90 C223.17 844.99 229.12 847.32 230.34 847.39 C231.56 847.45 241.58 846.65 242.80 846.04 C244.02 845.43 249.99 837.42 251.30 836.94 C252.60 836.47 264.05 837.50 265.17 837.94 C266.29 838.37 269.91 843.78 270.55 844.40 C271.19 845.03 275.19 848.48 276.21 848.63 C277.24 848.77 286.88 847.40 288.10 846.89 C289.33 846.38 295.98 840.33 297.17 839.93 C298.35 839.52 307.17 839.71 308.49 839.93 C309.81 840.14 317.27 843.39 319.82 843.61 C322.36 843.82 349.49 843.71 352.10 843.61 C354.71 843.51 363.83 842.02 364.56 841.92" fill="none" stroke="#ff0000" stroke-width="3.60" stroke-linejoin="round" stroke-dasharray="10.5 10.1"/>
<path d="M364.56 841.92 C365.36 841.92 377.01 841.90 378.43 842.02 C379.85 842.13 387.47 843.80 388.91 843.91 C390.34 844.02 401.54 843.99 403.06 843.91 C404.58 843.82 413.34 842.47 414.96 842.41 C416.57 842.36 419.78 842.88 430.81 842.91 C441.85 842.94 593.99 842.91 604.10 842.91" fill="none" stroke="#ff0000" stroke-width="3.60" stroke-dasharray="10.5 10.1" stroke-dashoffset="12.67"/>
<path d="M42.3 621.5L42.4 621.2L42.4 620.9L42.4 620.7L42.4 620.4L42.5 620.2L42.5 620.0L42.5 619.8L42.5 619.7L42.6 619.5L42.6 619.4L42.6 619.3L42.6 619.2L42.6 619.2L42.6 619.1L42.6 619.1L42.7 619.1L42.7 619.2L42.7 619.2L42.7 619.4L42.7 619.5L42.7 619.7L42.7 620.0L42.8 620.3L42.8 620.6L42.8 621.0L42.8 621.4M49.3 1001.4L49.3 1002.0L49.3 1002.5L49.3 1003.0L49.3 1003.4L49.3 1003.8L49.4 1004.2L49.4 1004.6L49.4 1004.8L49.4 1005.1L49.4 1005.3L49.4 1005.4L49.4 1005.5L49.4 1005.6L49.4 1005.6L49.4 1005.6L49.5 1005.5L49.5 1005.5L49.5 1005.4L49.5 1005.2L49.5 1005.1L49.5 1004.9L49.6 1004.7L49.6 1004.5L49.6 1004.3L49.6 1004.0L49.7 1003.8L49.7 1003.5L49.7 1003.2L49.8 1002.8L49.8 1002.5L49.8 1002.2L49.8 1001.8L49.9 1001.4M137.6 798.9L137.7 798.7L137.7 798.5L137.8 798.3L137.8 798.1L137.9 797.9L137.9 797.8L138.0 797.6L138.0 797.5L138.1 797.3L138.1 797.2L138.2 797.1L138.3 797.0L138.3 796.9L138.4 796.8L138.4 796.8L138.5 796.7L138.5 796.7L138.6 796.7L138.6 796.7L138.7 796.7L138.7 796.7L138.8 796.7L138.9 796.8L139.0 796.9L139.2 797.0L139.3 797.1L139.5 797.2L139.6 797.3L139.8 797.4L140.0 797.6L140.2 797.7L140.4 797.9M161.7 873.9L161.7 874.1L161.7 874.4L161.8 874.6L161.8 874.8L161.9 875.0L161.9 875.1L161.9 875.3L162.0 875.4L162.0 875.5L162.0 875.6L162.1 875.7L162.1 875.7L162.1 875.8L162.2 875.8L162.2 875.8L162.3 875.8L162.3 875.7L162.4 875.7L162.5 875.7L162.6 875.6L162.7 875.6L162.8 875.5L162.9 875.4L163.0 875.3L163.1 875.2L163.2 875.1L163.3 875.0L163.5 874.9L163.6 874.8" fill="none" stroke="#ff0000" stroke-width="3.60" stroke-linejoin="round"/>
</g>
<g font-family="'Liberation Sans', Arial, sans-serif" font-size="16.90" fill="#262626">
<text x="37.40" y="1067.00" text-anchor="middle">0</text>
<text x="94.03" y="1067.00" text-anchor="middle">10</text>
<text x="150.66" y="1067.00" text-anchor="middle">20</text>
<text x="207.29" y="1067.00" text-anchor="middle">30</text>
<text x="263.92" y="1067.00" text-anchor="middle">40</text>
<text x="320.55" y="1067.00" text-anchor="middle">50</text>
<text x="377.18" y="1067.00" text-anchor="middle">60</text>
<text x="433.81" y="1067.00" text-anchor="middle">70</text>
<text x="490.44" y="1067.00" text-anchor="middle">80</text>
<text x="547.07" y="1067.00" text-anchor="middle">90</text>
<text x="603.70" y="1067.00" text-anchor="middle">100</text>
<text x="29.40" y="602.00" text-anchor="end">5</text>
<text x="29.40" y="651.72" text-anchor="end">4</text>
<text x="29.40" y="701.44" text-anchor="end">3</text>
<text x="29.40" y="751.17" text-anchor="end">2</text>
<text x="29.40" y="800.89" text-anchor="end">1</text>
<text x="29.40" y="850.61" text-anchor="end">0</text>
<text x="29.40" y="900.33" text-anchor="end">-1</text>
<text x="29.40" y="950.06" text-anchor="end">-2</text>
<text x="29.40" y="999.78" text-anchor="end">-3</text>
<text x="29.40" y="1049.50" text-anchor="end">-4</text>
</g>
<rect x="325.30" y="611.00" width="262.40" height="67.10" fill="#fff" stroke="#262626" stroke-width="1.3"/>
<path d="M335.20 629.20H390.40" stroke="#0072bd" stroke-width="3.6"/>
<path d="M336.80 659.70H390.40" stroke="#ff0000" stroke-width="3.6" stroke-dasharray="10.2 10.4"/>
<g font-family="'Liberation Serif', 'Times New Roman', serif" font-size="25.37" fill="#000" stroke="#000" stroke-width="0.22">
<text x="394.60" y="634.60" font-style="italic">u</text>
<text x="406.90" y="638.90" font-size="17.05">0</text>
<text x="426.00" y="634.60" textLength="30.04" lengthAdjust="spacingAndGlyphs">(v)</text>
<text x="465.90" y="634.60" textLength="47.15" lengthAdjust="spacingAndGlyphs">with</text>
<text x="521.00" y="634.60" textLength="44.25" lengthAdjust="spacingAndGlyphs">case</text>
<text x="573.40" y="634.60" textLength="9.74" lengthAdjust="spacingAndGlyphs">I</text>
<text x="394.60" y="665.70" font-style="italic">u</text>
<text x="406.90" y="670.00" font-size="17.05">0</text>
<text x="426.00" y="665.70" textLength="30.04" lengthAdjust="spacingAndGlyphs">(v)</text>
<text x="465.90" y="665.70" textLength="47.15" lengthAdjust="spacingAndGlyphs">with</text>
<text x="521.00" y="665.70" textLength="44.25" lengthAdjust="spacingAndGlyphs">case</text>
<text x="573.40" y="665.70" textLength="9.74" lengthAdjust="spacingAndGlyphs">I</text>
<text x="400.60" y="662.10" text-anchor="middle" font-size="19" stroke="none">ˆ</text>
</g>
<text x="320.60" y="1093.10" text-anchor="middle" font-family="'Liberation Serif', 'Times New Roman', serif" font-size="25" fill="#3a3a3a">k</text>
<g font-family="'Liberation Serif', 'Times New Roman', serif" fill="#000"><text transform="translate(300.10 1141.90) scale(0.9 1)" font-size="32">(</text><text transform="translate(309.70 1142.50) scale(1.140 1)" font-size="26.5" font-weight="bold">c</text><text transform="translate(322.60 1141.90) scale(0.9 1)" font-size="32">)</text></g>
</g>
<g id="plotD">
<rect x="677.10" y="602.80" width="567.10" height="446.40" fill="#fff"/>
<path d="M733.81 602.80V1049.20M790.52 602.80V1049.20M847.23 602.80V1049.20M903.94 602.80V1049.20M960.65 602.80V1049.20M1017.36 602.80V1049.20M1074.07 602.80V1049.20M1130.78 602.80V1049.20M1187.49 602.80V1049.20M677.10 677.20H1244.20M677.10 751.60H1244.20M677.10 826.00H1244.20M677.10 900.40H1244.20M677.10 974.80H1244.20" stroke="#e2e2e2" stroke-width="1.5" fill="none"/>
<path d="M677.10 1049.20v-6.20M677.10 602.80v6.20M733.81 1049.20v-6.20M733.81 602.80v6.20M790.52 1049.20v-6.20M790.52 602.80v6.20M847.23 1049.20v-6.20M847.23 602.80v6.20M903.94 1049.20v-6.20M903.94 602.80v6.20M960.65 1049.20v-6.20M960.65 602.80v6.20M1017.36 1049.20v-6.20M1017.36 602.80v6.20M1074.07 1049.20v-6.20M1074.07 602.80v6.20M1130.78 1049.20v-6.20M1130.78 602.80v6.20M1187.49 1049.20v-6.20M1187.49 602.80v6.20M1244.20 1049.20v-6.20M1244.20 602.80v6.20M677.10 602.80h6.20M1244.20 602.80h-6.20M677.10 677.20h6.20M1244.20 677.20h-6.20M677.10 751.60h6.20M1244.20 751.60h-6.20M677.10 826.00h6.20M1244.20 826.00h-6.20M677.10 900.40h6.20M1244.20 900.40h-6.20M677.10 974.80h6.20M1244.20 974.80h-6.20M677.10 1049.20h6.20M1244.20 1049.20h-6.20" stroke="#262626" stroke-width="1.45" fill="none"/>
<rect x="677.10" y="602.80" width="567.10" height="446.40" fill="none" stroke="#262626" stroke-width="1.5"/>
<g clip-path="url(#cd)">
<path d="M720.77 811.12 C720.97 814.16 722.07 831.78 722.47 837.16 C722.86 842.54 723.75 854.30 724.17 857.25 C724.59 860.20 725.59 862.28 726.10 862.46 C726.60 862.63 727.91 861.17 728.48 858.74 C729.05 856.31 730.25 844.75 730.97 841.62 C731.70 838.50 733.90 831.78 734.66 831.95 C735.42 832.13 736.89 840.33 737.50 843.11 C738.10 845.89 739.32 853.68 739.88 855.76 C740.44 857.84 741.70 861.14 742.32 860.97 C742.93 860.79 744.38 856.53 745.15 854.27 C745.93 852.02 748.09 844.66 748.95 841.62 C749.81 838.59 751.64 831.27 752.52 828.23 C753.40 825.19 755.63 818.97 756.49 815.58 C757.35 812.20 759.10 802.17 759.90 799.22 C760.69 796.26 762.57 790.46 763.30 790.29 C764.03 790.11 765.47 795.91 766.13 797.73 C766.80 799.55 768.24 805.48 768.97 805.91 C769.70 806.35 771.58 800.84 772.37 801.45 C773.17 802.06 775.05 808.26 775.78 811.12 C776.50 813.98 778.02 822.96 778.61 826.00 C779.21 829.04 780.28 835.25 780.88 837.16 C781.47 839.07 782.85 842.63 783.71 842.37 C784.57 842.11 787.39 836.40 788.25 834.93 C789.11 833.45 790.36 829.29 791.09 829.72 C791.81 830.15 793.83 836.91 794.49 838.65 C795.15 840.38 796.16 844.60 796.76 844.60 C797.35 844.60 798.96 840.56 799.59 838.65 C800.23 836.74 800.48 829.59 802.20 828.23 C803.92 826.88 812.53 828.34 814.34 827.04 C816.15 825.74 816.95 818.67 817.74 817.07 C818.53 815.47 820.22 813.09 821.14 813.35 C822.07 813.61 824.62 818.83 825.68 819.30 C826.74 819.78 829.16 817.18 830.22 817.44 C831.28 817.70 833.63 820.19 834.75 821.54 C835.88 822.88 838.73 827.59 839.86 828.98 C840.98 830.36 843.40 832.92 844.39 833.44 C845.39 833.96 847.37 833.22 848.36 833.44 C849.36 833.66 851.64 835.91 852.90 835.30 C854.16 834.69 857.42 829.49 859.14 828.23 C860.86 826.97 865.79 825.44 867.65 824.51 C869.50 823.58 873.36 820.27 875.02 820.27 C876.67 820.27 880.50 824.17 881.82 824.51 C883.15 824.85 885.17 823.00 886.36 823.17 C887.55 823.35 890.91 825.43 892.03 826.00 C893.16 826.57 894.61 827.98 896.00 828.08 C897.39 828.19 902.29 826.83 903.94 826.89 C905.59 826.95 908.66 828.71 910.18 828.60 C911.70 828.50 915.20 826.36 916.98 826.00 C918.77 825.64 923.64 825.74 925.49 825.48 C927.34 825.22 930.81 823.83 932.86 823.77 C934.91 823.71 940.62 824.61 943.07 824.96 C945.52 825.31 951.20 826.48 953.84 826.74 C956.49 827.00 963.31 827.29 965.75 827.19 C968.20 827.09 972.18 826.13 974.83 825.85 C977.47 825.57 985.20 824.79 988.44 824.81 C991.68 824.83 999.57 825.77 1002.62 826.00 C1005.66 826.23 1011.75 826.71 1014.52 826.74 C1017.30 826.78 1022.73 826.49 1026.43 826.30 C1030.14 826.11 1042.18 825.14 1046.28 825.11 C1050.38 825.07 1038.50 825.90 1061.59 826.00 C1084.68 826.10 1222.90 826.00 1244.20 826.00" fill="none" stroke="#ff0000" stroke-width="3.50" stroke-linejoin="round"/>
<path d="M677.1 819.3L677.7 822.0M677.7 822.0L678.2 834.9M678.2 834.9L678.5 847.8M678.5 847.8L678.8 860.8M678.8 860.8L679.2 873.8M679.2 873.8L679.6 886.7M679.6 886.7L680.1 900.0M680.1 900.0L680.6 913.8M680.6 913.8L681.1 926.8M681.1 926.8L681.6 939.8M681.6 939.8L682.2 953.3M682.2 953.3L682.7 966.2M682.7 966.2L683.2 979.4M683.2 979.4L683.8 992.1M683.8 992.1L684.4 1002.9M684.4 1002.9L685.0 1010.9M685.0 1010.9L685.6 1017.7M685.6 1017.7L686.2 1023.2M686.2 1023.2L686.8 1026.7M686.8 1026.7L687.4 1024.9M687.4 1024.9L688.0 1019.2M688.0 1019.2L688.6 1012.5M688.6 1012.5L689.1 1005.8M689.1 1005.8L689.7 999.3M689.7 999.3L690.3 993.2M690.3 993.2L690.9 987.0M690.9 987.0L691.5 980.4M691.5 980.4L692.1 973.3M692.1 973.3L692.7 964.3M692.7 964.3L693.2 951.4M693.2 951.4L693.5 938.2M693.5 938.2L693.9 924.9M693.9 924.9L694.2 912.2M694.2 912.2L694.5 899.5M694.5 899.5L694.8 886.6M694.8 886.6L695.0 873.0M695.0 873.0L695.3 860.1M695.3 860.1L695.6 846.9M695.6 846.9L696.0 833.3M696.0 833.3L696.4 820.2M696.4 820.2L696.7 806.5M696.7 806.5L697.1 793.8M697.1 793.8L697.5 780.8M697.5 780.8L697.8 767.1M697.8 767.1L698.1 753.7M698.1 753.7L698.5 739.9M698.5 739.9L698.8 726.2M698.8 726.2L699.2 713.0M699.2 713.0L699.6 700.3M699.6 700.3L700.0 687.4M700.0 687.4L700.5 674.5M700.5 674.5L701.1 665.3M701.1 665.3L701.7 661.0M701.7 661.0L702.3 658.3M702.3 658.3L702.9 656.6M702.9 656.6L703.5 657.1M703.5 657.1L704.1 660.4M704.1 660.4L704.7 664.7M704.7 664.7L705.2 669.4M705.2 669.4L705.8 675.2M705.8 675.2L706.4 682.2M706.4 682.2L707.0 689.5M707.0 689.5L707.6 696.5M707.6 696.5L708.2 703.8M708.2 703.8L708.8 710.7M708.8 710.7L709.4 718.3M709.4 718.3L710.0 725.5M710.0 725.5L710.6 732.6M710.6 732.6L711.1 740.6M711.1 740.6L711.7 748.5M711.7 748.5L712.3 754.0M712.3 754.0L712.9 756.6M712.9 756.6L713.5 758.3M713.5 758.3L714.1 760.1M714.1 760.1L714.7 761.8M714.7 761.8L715.3 763.8M715.3 763.8L715.8 766.7M715.8 766.7L716.4 770.4M716.4 770.4L717.0 774.2M717.0 774.2L717.6 778.4M717.6 778.4L718.1 783.3M718.1 783.3L718.7 789.0M718.7 789.0L719.3 795.3M719.3 795.3L719.9 801.7M719.9 801.7L720.5 808.4M720.5 808.4L721.1 815.8M721.1 815.8L721.7 825.1M721.7 825.1L722.3 834.2" fill="none" stroke="#ff0000" stroke-width="3.50" stroke-dasharray="9.3 20"/>
<path d="M677.10 818.04 C677.33 817.87 678.65 814.58 679.08 816.55 C679.51 818.52 680.36 828.18 680.79 834.93 C681.22 841.67 682.27 863.25 682.77 874.36 C683.27 885.47 684.42 917.23 685.04 930.16 C685.66 943.09 687.37 981.05 688.10 985.22 C688.83 989.38 690.60 975.25 691.28 965.87 C691.95 956.50 693.39 917.10 693.89 904.86 C694.38 892.63 695.20 869.73 695.53 860.97 C695.86 852.20 696.46 838.14 696.72 829.72 C696.99 821.30 697.57 797.05 697.80 788.80 C698.02 780.55 698.39 766.59 698.65 759.04 C698.91 751.49 699.48 730.50 700.01 724.07 C700.54 717.65 702.49 703.98 703.19 703.98 C703.89 703.98 705.37 718.69 706.02 724.07 C706.67 729.45 708.12 744.04 708.74 750.11 C709.37 756.19 710.74 773.11 711.35 776.15 C711.96 779.19 713.35 774.68 713.96 776.15 C714.57 777.63 715.94 784.29 716.57 788.80 C717.20 793.31 718.73 808.68 719.35 814.84 C719.97 821.00 721.34 836.50 721.90 841.62 C722.46 846.75 723.68 856.17 724.17 858.74 C724.66 861.31 725.59 863.65 726.10 863.65 C726.60 863.65 727.91 861.31 728.48 858.74 C729.05 856.17 730.25 845.04 730.97 841.62 C731.70 838.20 733.90 829.42 734.66 829.42 C735.42 829.42 736.89 838.72 737.50 841.62 C738.10 844.52 739.32 852.15 739.88 854.27 C740.44 856.40 741.70 859.97 742.32 859.85 C742.93 859.73 744.38 855.36 745.15 853.23 C745.93 851.10 748.09 844.40 748.95 841.62 C749.81 838.85 751.64 832.17 752.52 829.42 C753.40 826.67 755.57 821.04 756.49 818.04 C757.42 815.04 759.60 806.22 760.46 803.68 C761.32 801.14 763.20 796.46 763.87 796.24 C764.53 796.02 765.61 800.17 766.13 801.82 C766.66 803.47 767.71 810.03 768.40 810.38 C769.10 810.72 771.26 804.54 772.09 804.80 C772.92 805.06 774.80 810.13 775.49 812.61 C776.19 815.08 777.48 823.44 778.04 826.00 C778.61 828.56 779.52 832.95 780.31 834.56 C781.11 836.16 783.92 839.82 784.85 839.76 C785.78 839.70 787.52 835.31 788.25 834.04 C788.98 832.76 790.36 828.42 791.09 828.83 C791.81 829.24 793.83 835.91 794.49 837.53 C795.15 839.16 796.16 842.74 796.76 842.74 C797.35 842.74 798.96 839.26 799.59 837.53 C800.23 835.80 800.48 829.16 802.20 827.93 C803.92 826.71 812.53 828.27 814.34 827.04 C816.15 825.82 816.95 818.91 817.74 817.44 C818.53 815.98 820.22 814.16 821.14 814.47 C822.07 814.77 824.62 819.60 825.68 820.05 C826.74 820.50 829.16 818.13 830.22 818.34 C831.28 818.55 833.63 820.61 834.75 821.83 C835.88 823.06 838.73 827.56 839.86 828.83 C840.98 830.09 843.40 832.24 844.39 832.70 C845.39 833.15 847.37 832.50 848.36 832.70 C849.36 832.90 851.64 834.96 852.90 834.41 C854.16 833.85 857.42 829.09 859.14 827.93 C860.86 826.78 865.79 825.41 867.65 824.51 C869.50 823.62 873.36 820.27 875.02 820.27 C876.67 820.27 880.50 824.17 881.82 824.51 C883.15 824.85 885.17 823.00 886.36 823.17 C887.55 823.35 890.91 825.43 892.03 826.00 C893.16 826.57 894.61 827.98 896.00 828.08 C897.39 828.19 902.29 826.83 903.94 826.89 C905.59 826.95 908.66 828.71 910.18 828.60 C911.70 828.50 915.20 826.36 916.98 826.00 C918.77 825.64 923.64 825.74 925.49 825.48 C927.34 825.22 930.81 823.83 932.86 823.77 C934.91 823.71 940.62 824.61 943.07 824.96 C945.52 825.31 951.20 826.48 953.84 826.74 C956.49 827.00 963.31 827.29 965.75 827.19 C968.20 827.09 972.18 826.13 974.83 825.85 C977.47 825.57 985.20 824.79 988.44 824.81 C991.68 824.83 999.57 825.77 1002.62 826.00 C1005.66 826.23 1011.75 826.71 1014.52 826.74 C1017.30 826.78 1022.73 826.49 1026.43 826.30 C1030.14 826.11 1042.18 825.14 1046.28 825.11 C1050.38 825.07 1038.50 825.90 1061.59 826.00 C1084.68 826.10 1222.90 826.00 1244.20 826.00" fill="none" stroke="#0072bd" stroke-width="4.30" stroke-linejoin="round"/>
<path d="M694.11 915.28 C694.29 907.21 695.27 861.28 695.64 846.09 C696.02 830.90 696.94 800.36 697.35 785.08 C697.75 769.80 698.90 723.30 699.10 715.14" fill="none" stroke="#ff0000" stroke-width="3.30" stroke-linejoin="round" stroke-dasharray="9 6.5"/>
</g>
<g font-family="'Liberation Sans', Arial, sans-serif" font-size="16.80" fill="#262626">
<text x="676.70" y="1075.05" text-anchor="middle">0</text>
<text x="733.41" y="1075.05" text-anchor="middle">10</text>
<text x="790.12" y="1075.05" text-anchor="middle">20</text>
<text x="846.83" y="1075.05" text-anchor="middle">30</text>
<text x="903.54" y="1075.05" text-anchor="middle">40</text>
<text x="960.25" y="1075.05" text-anchor="middle">50</text>
<text x="1016.96" y="1075.05" text-anchor="middle">60</text>
<text x="1073.67" y="1075.05" text-anchor="middle">70</text>
<text x="1130.38" y="1075.05" text-anchor="middle">80</text>
<text x="1187.09" y="1075.05" text-anchor="middle">90</text>
<text x="1243.80" y="1075.05" text-anchor="middle">100</text>
<text x="669.30" y="609.90" text-anchor="end">3</text>
<text x="669.30" y="684.30" text-anchor="end">2</text>
<text x="669.30" y="758.70" text-anchor="end">1</text>
<text x="669.30" y="833.10" text-anchor="end">0</text>
<text x="669.30" y="907.50" text-anchor="end">-1</text>
<text x="669.30" y="981.90" text-anchor="end">-2</text>
<text x="669.30" y="1056.30" text-anchor="end">-3</text>
</g>
<rect x="965.30" y="619.50" width="262.40" height="69.40" fill="#fff" stroke="#262626" stroke-width="1.3"/>
<path d="M975.20 637.90H1030.40" stroke="#0072bd" stroke-width="3.6"/>
<path d="M976.80 669.30H1030.40" stroke="#ff0000" stroke-width="3.6" stroke-dasharray="10.2 10.4"/>
<g font-family="'Liberation Serif', 'Times New Roman', serif" font-size="25.37" fill="#000" stroke="#000" stroke-width="0.22">
<text x="1034.40" y="642.90" font-style="italic">i</text>
<text x="1041.80" y="647.20" font-size="17.05">2</text>
<text x="1061.40" y="642.90" textLength="34.10" lengthAdjust="spacingAndGlyphs">(A)</text>
<text x="1105.90" y="642.90" textLength="47.15" lengthAdjust="spacingAndGlyphs">with</text>
<text x="1161.00" y="642.90" textLength="44.25" lengthAdjust="spacingAndGlyphs">case</text>
<text x="1213.40" y="642.90" textLength="9.74" lengthAdjust="spacingAndGlyphs">I</text>
<text x="1034.40" y="674.60" font-style="italic">i</text>
<text x="1041.80" y="678.90" font-size="17.05">2</text>
<text x="1061.40" y="674.60" textLength="34.10" lengthAdjust="spacingAndGlyphs">(A)</text>
<text x="1105.90" y="674.60" textLength="47.15" lengthAdjust="spacingAndGlyphs">with</text>
<text x="1161.00" y="674.60" textLength="44.25" lengthAdjust="spacingAndGlyphs">case</text>
<text x="1213.40" y="674.60" textLength="9.74" lengthAdjust="spacingAndGlyphs">I</text>
<text x="1037.90" y="666.60" text-anchor="middle" font-size="19" stroke="none">ˆ</text>
</g>
<text x="960.60" y="1093.10" text-anchor="middle" font-family="'Liberation Serif', 'Times New Roman', serif" font-size="25" fill="#3a3a3a">k</text>
<g font-family="'Liberation Serif', 'Times New Roman', serif" fill="#000"><text transform="translate(936.30 1141.90) scale(0.9 1)" font-size="32">(</text><text transform="translate(945.90 1142.50) scale(1.040 1)" font-size="29.0" font-weight="bold">d</text><text transform="translate(964.10 1141.90) scale(0.9 1)" font-size="32">)</text></g>
</g>
</svg></body></html>
